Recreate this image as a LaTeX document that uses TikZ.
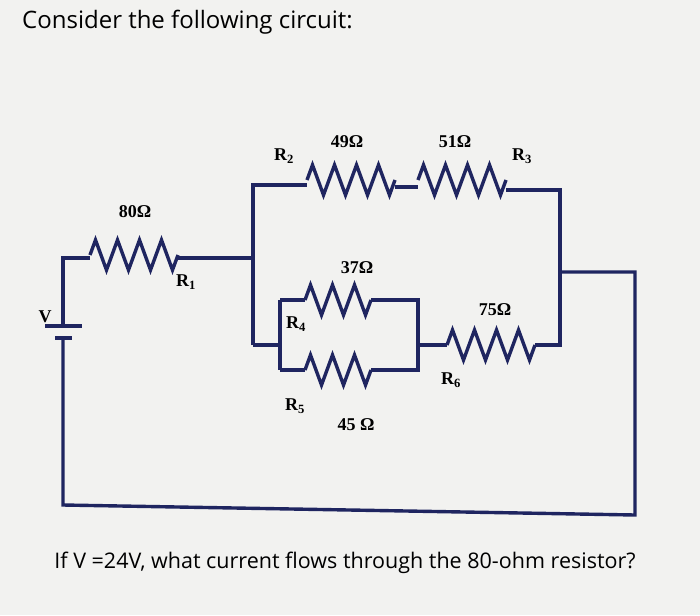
\documentclass[tikz,border=0pt]{standalone}
\usepackage{fontspec}
\setmainfont{Liberation Serif}
\newfontfamily\uifont{Open Sans}
\usetikzlibrary{decorations.pathmorphing}
\definecolor{wire}{HTML}{1F2560}
\definecolor{paper}{HTML}{F2F2F0}
\begin{document}
\begin{tikzpicture}[x=1pt,y=-1pt,
  wr/.style={wire,line width=3.4pt,line join=miter},
  res/.style={decorate,decoration={zigzag,segment length=22pt,amplitude=15pt}},
  lbl/.style={font=\bfseries\fontsize{18}{20}\selectfont,inner sep=0pt},
  txt/.style={font=\uifont\fontsize{24}{26}\selectfont,inner sep=0pt},
  ]
  \fill[paper] (0,0) rectangle (700,615);
  \useasboundingbox (0,0) rectangle (700,615);
  % texts
  \node[txt,anchor=west] (title) at (22,22) {Consider the following circuit:};
  \node[txt,font=\uifont\fontsize{21.5}{24}\selectfont] (question) at (345,563) {If V =24V, what current flows through the 80-ohm resistor?};
  % left branch and battery
  \draw[wr] (63,326) -- (63,258) -- (90,258);
  \draw[wr,res] (90,255) -- (178,255);
  \draw[wr] (178,258) -- (253,258);
  \draw[wr] (45,326) -- (82,326);
  \draw[wr] (55,338) -- (72,338);
  \draw[wr] (63,338) -- (63,505) -- (635,515) -- (635,272) -- (560,272);
  % upper branch
  \draw[wr] (253,345) -- (253,185) -- (307,185);
  \draw[wr,res] (307,180) -- (395,180);
  \draw[wr] (395,187) -- (418,187);
  \draw[wr,res] (418,180) -- (506,180);
  \draw[wr] (506,190) -- (560,190) -- (560,345) -- (535,345);
  \draw[wr,res] (447,345) -- (535,345);
  % R4 / R5 block
  \draw[wr] (253,345) -- (280,345);
  \draw[wr] (280,300) -- (280,370);
  \draw[wr] (280,300) -- (305,300);
  \draw[wr,res] (305,300) -- (371,300);
  \draw[wr] (371,300) -- (418,300) -- (418,370) -- (371,370);
  \draw[wr] (280,370) -- (305,370);
  \draw[wr,res] (305,370) -- (371,370);
  \draw[wr] (418,345) -- (447,345);
  % labels
  \node[lbl] (v) at (45,317) {V};
  \node[lbl] (r1v) at (135,212) {80Ω};
  \node[lbl] (r1) at (186,282) {R$_\mathbf{1}$};
  \node[lbl] (r2) at (284,156) {R$_\mathbf{2}$};
  \node[lbl] (r2v) at (347,142) {49Ω};
  \node[lbl] (r3v) at (455,142) {51Ω};
  \node[lbl] (r3) at (522,156) {R$_\mathbf{3}$};
  \node[lbl] (r4v) at (357,268) {37Ω};
  \node[lbl] (r4) at (296,324) {R$_\mathbf{4}$};
  \node[lbl] (r6v) at (495,310) {75Ω};
  \node[lbl] (r6) at (451,380) {R$_\mathbf{6}$};
  \node[lbl] (r5) at (295,406) {R$_\mathbf{5}$};
  \node[lbl] (r5v) at (356,425) {45 Ω};
\end{tikzpicture}
\end{document}
